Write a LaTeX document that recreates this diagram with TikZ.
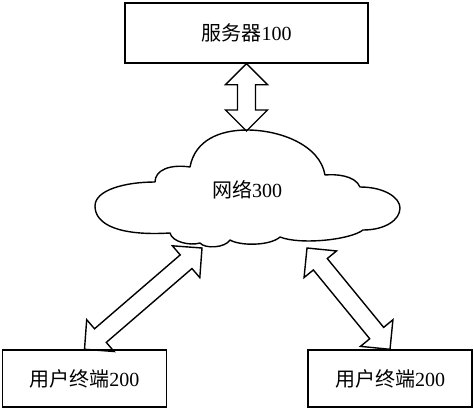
\documentclass[tikz,border=0pt]{standalone}
\usepackage{fontspec}
\setmainfont{Liberation Serif}
\newfontfamily\cjk{Noto Sans CJK SC}
\usetikzlibrary{calc}
\tikzstyle{box}=[draw,line width=1.4pt,inner sep=0pt,font=\fontsize{20}{24}\selectfont]
\tikzstyle{label}=[font=\fontsize{20}{24}\selectfont]
\tikzstyle{cloudline}=[draw,line width=1.4pt,line join=round]
\tikzstyle{blockarrow}=[draw,line width=1.4pt,line join=miter]

\begin{document}
\begin{tikzpicture}[x=1pt,y=-1pt]
	\useasboundingbox (0,0) rectangle (474,410);

	% First we draw the server and the two terminals
	\node[box,minimum width=243pt,minimum height=60pt] (srv) at (246.5,33) {{\cjk 服务器}100};
	\foreach \name/\pos in {term1/{(84.5,378.5)}, term2/{(390,378.5)}}
	\node[box,minimum width=164pt,minimum height=57pt] (\name) at \pos {{\cjk 用户终端}200};

	% The network cloud, bump by bump
	\path[cloudline] (170,233)
		.. controls (120,236) and (95,225) .. (95,206)
		.. controls (95,190) and (125,182) .. (155,182)
		.. controls (155,170) and (170,164) .. (190,167)
		.. controls (195,140) and (220,130) .. (247,130)
		.. controls (280,130) and (320,145) .. (325,175)
		.. controls (335,174) and (355,175) .. (360,187)
		.. controls (385,187) and (400,198) .. (400,208)
		.. controls (400,220) and (385,230) .. (363,230)
		.. controls (350,240) and (300,245) .. (280,237)
		.. controls (270,246) and (240,246) .. (230,240)
		.. controls (225,248) and (205,249) .. (200,243)
		.. controls (190,246) and (172,242) .. (170,233) -- cycle;
	\node[label] (net) at (247,190) {{\cjk 网络}300};
	\coordinate (nettop) at (246.5,131);
	\coordinate (netl) at (202,248);
	\coordinate (netr) at (307,248);

	% Connect everything with double block arrows
	\foreach \source/\dest in {srv.south/nettop, netl/term1.north, netr/term2.north}
	\path[blockarrow] (\source)
		-- ($(\source)!21pt!(\dest)!21pt!90:(\dest)$)
		-- ($(\source)!21pt!(\dest)!9pt!90:(\dest)$)
		-- ($(\dest)!21pt!(\source)!9pt!-90:(\source)$)
		-- ($(\dest)!21pt!(\source)!21pt!-90:(\source)$)
		-- (\dest)
		-- ($(\dest)!21pt!(\source)!21pt!90:(\source)$)
		-- ($(\dest)!21pt!(\source)!9pt!90:(\source)$)
		-- ($(\source)!21pt!(\dest)!9pt!-90:(\dest)$)
		-- ($(\source)!21pt!(\dest)!21pt!-90:(\dest)$)
		-- cycle;
\end{tikzpicture}
\end{document}
